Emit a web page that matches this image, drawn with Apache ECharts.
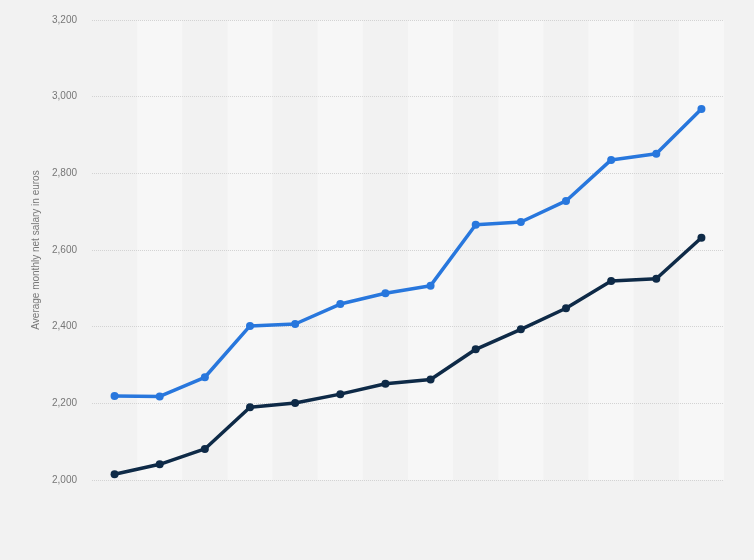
<!DOCTYPE html>
<html>
<head>
<meta charset="utf-8">
<script src="https://cdn.jsdelivr.net/npm/echarts@6/dist/echarts.min.js"></script>
<style>
  html, body { margin: 0; padding: 0; background: #f2f2f2; }
  #chart { width: 754px; height: 560px; }
</style>
</head>
<body>
<div id="chart"></div>
<script>
// categories (no labels shown in the picture)
var categories = ["2009", "2010", "2011", "2012", "2013", "2014", "2015", "2016", "2017", "2018", "2019", "2020", "2021", "2022"];
var seriesBlue = [2219, 2218, 2268, 2402, 2407, 2459, 2487, 2507, 2666, 2673, 2728, 2835, 2851, 2968];
var seriesDark = [2015, 2041, 2081, 2190, 2201, 2224, 2251, 2262, 2341, 2393, 2448, 2519, 2525, 2632];
var yTicks = { min: 2000, max: 3200, interval: 200 };

var myChart = echarts.init(document.getElementById("chart"));

var option = {
  backgroundColor: "#f2f2f2",
  animation: false,
  grid: {
    left: 92,
    right: 30,
    top: 20,
    bottom: 80
  },
  xAxis: {
    type: "category",
    data: categories,
    boundaryGap: true,
    z: 0,
    axisLine: { show: false },
    axisTick: { show: false },
    axisLabel: { show: false },
    splitArea: {
      show: true,
      areaStyle: { color: ["rgba(0,0,0,0)", "#f7f7f7"] }
    }
  },
  yAxis: {
    type: "value",
    min: yTicks.min,
    max: yTicks.max,
    interval: yTicks.interval,
    z: 1,
    name: "Average monthly net salary in euros",
    nameLocation: "middle",
    nameGap: 46,
    nameTextStyle: {
      color: "#777",
      fontSize: 10,
      fontFamily: "Liberation Sans"
    },
    axisLine: { show: false },
    axisTick: { show: false },
    axisLabel: {
      color: "#777",
      fontSize: 10,
      fontFamily: "Liberation Sans",
      margin: 15,
      formatter: function (v) {
        return v.toLocaleString("en-US");
      }
    },
    splitLine: {
      lineStyle: {
        color: "#d3d3d3",
        type: [1, 1],
        width: 1
      }
    }
  },
  series: [
    {
      type: "line",
      data: seriesBlue,
      symbol: "circle",
      symbolSize: 8,
      color: "#2877dd",
      lineStyle: { width: 3.5, color: "#2877dd" },
      z: 3
    },
    {
      type: "line",
      data: seriesDark,
      symbol: "circle",
      symbolSize: 8,
      color: "#0e2a47",
      lineStyle: { width: 3.5, color: "#0e2a47" },
      z: 3
    }
  ]
};

myChart.setOption(option);
</script>
</body>
</html>
